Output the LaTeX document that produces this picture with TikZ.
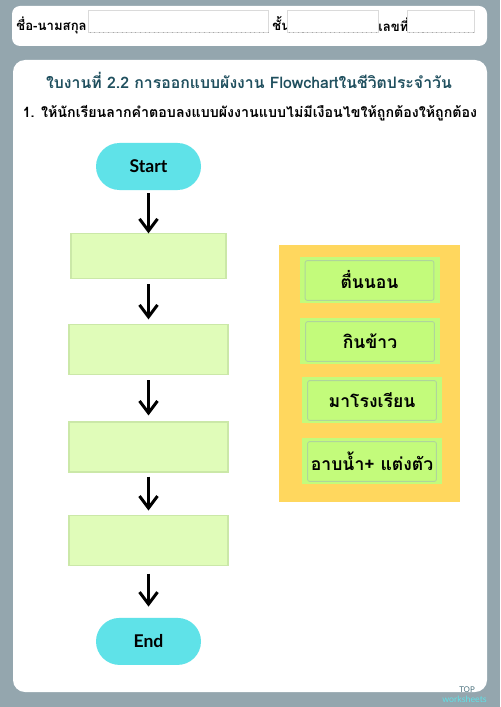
\documentclass[tikz,border=0pt]{standalone}
\usepackage{fontspec}
\newfontfamily\thaifont[Script=Thai]{Loma}
\newfontfamily\latfont{Lato}
\usetikzlibrary{arrows.meta,positioning}
\definecolor{grund}{HTML}{94A6AE}
\definecolor{titel}{HTML}{1F4F5E}
\definecolor{tuerkis}{HTML}{5FE2E8}
\definecolor{hgruen}{HTML}{E0FCB9}
\definecolor{hgruenr}{HTML}{CBE8A8}
\definecolor{gelb}{HTML}{FFD75E}
\definecolor{gruen}{HTML}{C3FB7B}
\definecolor{gruenr}{HTML}{AFD59B}
\definecolor{feldr}{HTML}{DADADA}
\definecolor{punkt}{HTML}{A8A8A8}
\tikzset{
  kopf/.style={font=\thaifont\bfseries\fontsize{7.5}{9}\selectfont,inner sep=0pt},
  feld/.style={draw=feldr,fill=white,line width=0.3pt,inner sep=0pt,minimum height=4.4mm},
  punkte/.style={punkt,dotted,line width=0.6pt},
  ueber/.style={font=\thaifont\bfseries\fontsize{9}{11}\selectfont,titel},
  aufgabe/.style={font=\thaifont\bfseries\fontsize{8.1}{10}\selectfont,inner sep=0pt},
  ende/.style={fill=tuerkis,rounded corners=4.7mm,minimum width=21mm,minimum height=9.4mm,
    font=\latfont\bfseries\fontsize{10}{12}\selectfont},
  schritt/.style={fill=hgruen,draw=hgruenr,line width=0.6pt,minimum width=31.8mm,minimum height=10mm},
  pfeil/.style={-{Straight Barb[length=2.4mm,width=3.6mm]},line width=0.6mm,black},
  antwort/.style={fill=gruen,minimum width=28mm,minimum height=9.2mm,inner sep=0pt,
    font=\thaifont\bfseries\fontsize{10}{12}\selectfont},
  antwortrand/.style={draw=gruenr,line width=0.5pt,rounded corners=0.4mm},
}
\begin{document}
\begin{tikzpicture}[x=0.2mm,y=-0.2mm]
  % --- Hintergrund ---
  \fill[grund] (0,0) rectangle (500,707);
  \useasboundingbox (0,0) rectangle (500,707);
  % --- Kopfzeile ---
  \fill[white,rounded corners=1.6mm] (12,6) rectangle (487,46);
  \node[kopf,anchor=base west] (lname) at (16,31) {ชื่อ-นามสกุล};
  \node[feld,minimum width=36mm] (fname) at (178,21) {};
  \node[kopf,anchor=base west] (lklasse) at (272,31) {ชั้น};
  \node[feld,minimum width=18.2mm] (fklasse) at (332.5,21) {};
  \node[kopf,anchor=base west] (lnr) at (378,32) {เลขที่};
  \node[feld,minimum width=13.4mm] (fnr) at (440.5,21) {};
  \foreach \f in {fname,fklasse,fnr}
    \draw[punkte] ([xshift=0.4mm]\f.south west) -- (\f.south east);
  % --- Arbeitsblatt ---
  \fill[white,rounded corners=2.4mm] (13,60) rectangle (487,692);
  \node[ueber] (kopftitel) at (249,80) {ใบงานที่ 2.2 การออกแบบผังงาน Flowchartในชีวิตประจำวัน};
  \node[aufgabe] (auftrag) at (250,113) {1. ให้นักเรียนลากคำตอบลงแบบผังงานแบบไม่มีเงือนไขให้ถูกต้องให้ถูกต้อง};
  % --- Ablauf ---
  \node[ende] (start) at (148.5,166.5) {Start};
  \node[schritt,minimum width=31mm,minimum height=9mm,below=8.6mm of start] (s1) {};
  \node[schritt,below=9mm of s1] (s2) {};
  \node[schritt,below=9.2mm of s2] (s3) {};
  \node[schritt,below=8.4mm of s3] (s4) {};
  \node[ende,below=10.4mm of s4] (stop) {End};
  \draw[pfeil,shorten <=0.6mm] (start) -- (s1);
  \draw[pfeil,shorten <=1mm,shorten >=1mm] (s1) -- (s2);
  \draw[pfeil,shorten <=1mm,shorten >=1.2mm] (s2) -- (s3);
  \draw[pfeil,shorten <=0.8mm,shorten >=0.8mm] (s3) -- (s4);
  \draw[pfeil,shorten <=1.6mm,shorten >=2.2mm] (s4) -- (stop);
  % --- Antworten ---
  \fill[gelb] (279,245) rectangle (460,502);
  \foreach \n/\x/\y/\t in {a1/369.5/280/ตื่นนอน, a2/370/341/กินข้าว,
                            a3/372/400/มาโรงเรียน, a4/372/461/อาบน้ำ+ แต่งตัว}{
    \node[antwort] (\n) at (\x,\y) {\t};
    \draw[antwortrand] ([xshift=1.2mm,yshift=-0.8mm]\n.north west)
      rectangle ([xshift=-1.2mm,yshift=0.6mm]\n.south east);
  }
  % --- Logo ---
  \node[font=\latfont\fontsize{4.5}{5}\selectfont,text=titel!80,inner sep=0pt] (logotop) at (467,690) {TOP};
  \node[font=\latfont\fontsize{5}{6}\selectfont,text=tuerkis,inner sep=0pt] (logows) at (464.5,699.5) {worksheets};
\end{tikzpicture}
\end{document}
